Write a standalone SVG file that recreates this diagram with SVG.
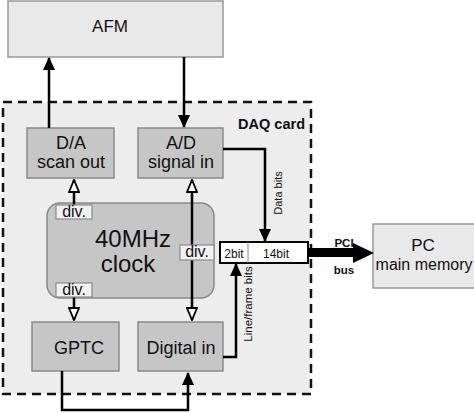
<svg xmlns="http://www.w3.org/2000/svg" width="474" height="413" viewBox="0 0 474 413">
<defs>
<style>
text{font-family:"Liberation Sans",Arial,sans-serif;fill:#111}
.box{fill:#c6c6c6;stroke:#8a8a8a;stroke-width:1.5}
.lbox{fill:#e9e9e9;stroke:#999;stroke-width:1.5}
.div{fill:#f2f2f2;stroke:#8a8a8a;stroke-width:1.2}
.big{font-size:18px;text-anchor:middle}
.divt{font-size:16px;text-anchor:middle}
.wire{fill:none;stroke:#000;stroke-width:2.5}
.small{font-size:11.5px;text-anchor:middle}
.bold{font-weight:bold}
</style>
<marker id="fa" viewBox="0 0 13 12" refX="12" refY="6" markerWidth="13" markerHeight="12" markerUnits="userSpaceOnUse" orient="auto">
<path d="M0,0 L13,6 L0,12 z" fill="#000"/>
</marker>
<marker id="oa" viewBox="0 0 14 12" refX="13" refY="6" markerWidth="14" markerHeight="12" markerUnits="userSpaceOnUse" orient="auto-start-reverse">
<path d="M1,1 L13,6 L1,11 z" fill="#fff" stroke="#000" stroke-width="1.8"/>
</marker>
</defs>

<g id="daq-card">
<rect x="3" y="102" width="308" height="292" fill="#ededed" stroke="#111" stroke-width="2.5" stroke-dasharray="9,6"/>
<text x="305" y="129" class="bold" font-size="14.5" text-anchor="end">DAQ card</text>
</g>

<g id="afm">
<rect x="8" y="1" width="215" height="56" class="lbox"/>
<text x="110" y="32" font-size="17" text-anchor="middle">AFM</text>
</g>

<g id="pc">
<rect x="373" y="224" width="104" height="64" class="lbox"/>
<text x="423" y="251" font-size="17" text-anchor="middle">PC</text>
<text x="424" y="270" font-size="16" text-anchor="middle">main memory</text>
</g>

<g id="da">
<rect x="27" y="128" width="87" height="50" class="box"/>
<text x="71" y="149" class="big">D/A</text>
<text x="71" y="168" class="big">scan out</text>
</g>

<g id="ad">
<rect x="138" y="128" width="85" height="50" class="box"/>
<text x="181" y="149" class="big">A/D</text>
<text x="181" y="168" class="big">signal in</text>
</g>

<g id="clock">
<rect x="47" y="203" width="167" height="95" rx="13" class="box"/>
<text x="133" y="247" font-size="24" text-anchor="middle">40MHz</text>
<text x="128" y="272" font-size="24" text-anchor="middle">clock</text>
</g>

<g id="gptc">
<rect x="32" y="322" width="87" height="49" class="box"/>
<text x="79" y="354" class="big">GPTC</text>
</g>

<g id="digital-in">
<rect x="138" y="322" width="85" height="49" class="box"/>
<text x="181" y="354" class="big">Digital in</text>
</g>

<g id="word">
<rect x="220" y="242" width="88" height="21" fill="#fff" stroke="#000" stroke-width="2"/>
<line x1="248" y1="242" x2="248" y2="263" stroke="#888" stroke-width="1"/>
<text x="234" y="258" font-size="12" text-anchor="middle">2bit</text>
<text x="276" y="258" font-size="12" text-anchor="middle">14bit</text>
</g>

<g id="connectors">
<line x1="49" y1="128" x2="49" y2="58" class="wire" marker-end="url(#fa)"/>
<line x1="184" y1="57" x2="184" y2="127" class="wire" marker-end="url(#fa)"/>
<line x1="74" y1="205" x2="74" y2="180" class="wire" stroke-width="2" marker-end="url(#oa)"/>
<line x1="74" y1="297" x2="74" y2="320" class="wire" stroke-width="2" marker-end="url(#oa)"/>
<line x1="192" y1="180" x2="192" y2="320" class="wire" stroke-width="2" marker-start="url(#oa)" marker-end="url(#oa)"/>
<polyline points="223,149 265,149 265,241" class="wire" stroke-width="2" marker-end="url(#fa)"/>
<polyline points="223,357 236,357 236,264" class="wire" stroke-width="2" marker-end="url(#fa)"/>
<polyline points="62,371 62,410 188,410 188,373" class="wire" marker-end="url(#fa)"/>
<path d="M309,248 L353,248 L353,243 L374,253 L353,263 L353,257 L309,257 z" fill="#000"/>
<text x="282" y="193" font-size="11" text-anchor="middle" transform="rotate(-90 282 193)">Data bits</text>
<text x="252" y="304" font-size="11.5" text-anchor="middle" transform="rotate(-90 252 304)">Line/frame bits</text>
<text x="344" y="247" class="small bold">PCI</text>
<text x="344" y="274" class="small bold">bus</text>
</g>

<g id="div-da">
<rect x="56" y="205" width="36" height="14" class="div"/>
<text x="74" y="217" class="divt">div.</text>
</g>
<g id="div-gptc">
<rect x="56" y="283" width="36" height="14" class="div"/>
<text x="74" y="295" class="divt">div.</text>
</g>
<g id="div-ad">
<rect x="180" y="245" width="34" height="15" class="div"/>
<text x="197" y="257" class="divt">div.</text>
</g>
</svg>
